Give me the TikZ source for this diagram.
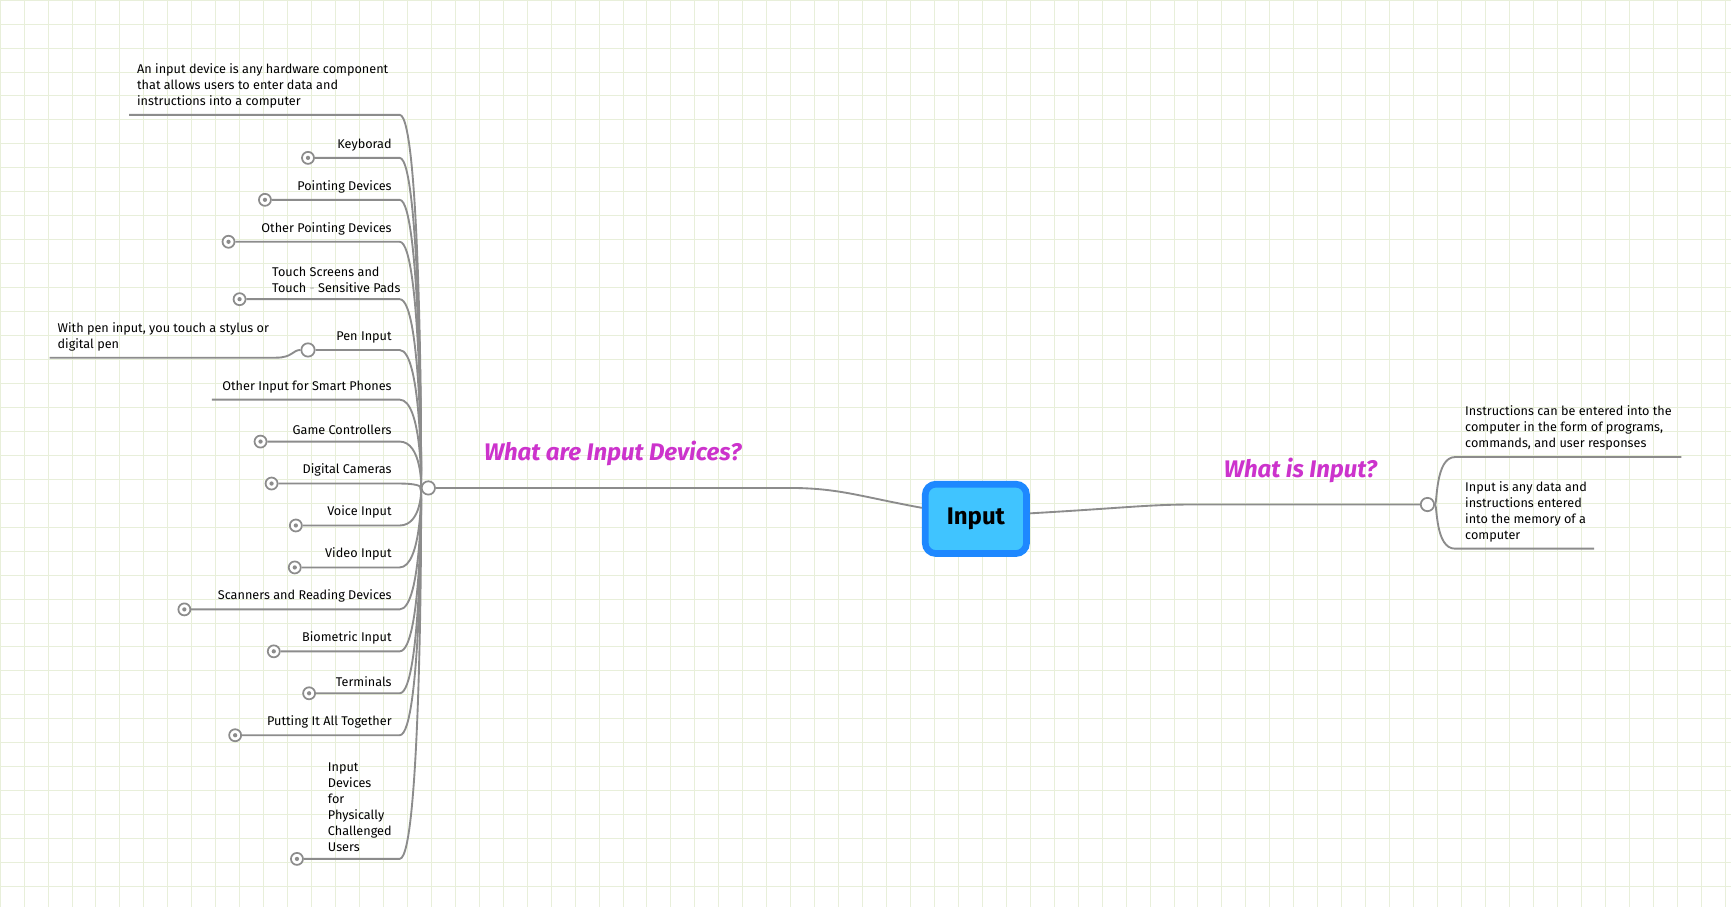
\documentclass[tikz,border=0pt]{standalone}
\usepackage{fontspec}
\setmainfont{Fira Sans}
\definecolor{topicc}{RGB}{204,51,204}
\definecolor{gridc}{RGB}{232,239,218}
\begin{document}
\begin{tikzpicture}[x=0.828pt,y=-0.828pt,
  conn/.style={draw=black!45,line width=1.4pt},
  lbl/.style={inner sep=0pt,font=\fontsize{9.5}{12}\fontseries{l}\selectfont},
  mk/.style={circle,draw=black!45,line width=1.3pt,minimum size=9pt,inner sep=0pt,fill=white,path picture={\fill[black!45](path picture bounding box.center) circle (1.6pt);}},
  hubc/.style={circle,draw=black!45,line width=1.3pt,minimum size=10pt,inner sep=0pt,fill=white},
  topic/.style={inner sep=0pt,font=\fontsize{18}{22}\bfseries\itshape\selectfont,text=topicc}]
\useasboundingbox (0,0) rectangle (1568,822);
\fill[white] (0,0) rectangle (1568,822);
\foreach \gx in {0,21.7,...,1568} \draw[gridc,line width=0.5pt] (\gx,0) -- (\gx,822);
\foreach \gy in {0,21.7,...,822} \draw[gridc,line width=0.5pt] (0,\gy) -- (1568,\gy);
% center
\node[draw={rgb,255:red,30;green,136;blue,255},line width=5pt,fill={rgb,255:red,64;green,196;blue,255},rounded corners=8pt,minimum width=76pt,minimum height=52pt,font=\fontsize{18}{20}\bfseries\selectfont] (root) at (884,470) {Input};
% right
\node[hubc] (rh) at (1293,457) {};
\coordinate (rj) at (1080,457);
\draw[conn] (root.east|-0,465) .. controls (1020,460) and (1040,457) .. (rj) -- (rh);
\node[topic] (rt) at (1178,426) {What is Input?};
\coordinate (r1) at (1523,414);
\coordinate (r2) at (1444,497);
\draw[conn] (rh) .. controls (1302,457) and (1300,414) .. (1318,414) -- (r1);
\draw[conn] (rh) .. controls (1302,457) and (1300,497) .. (1318,497) -- (r2);
\node[lbl,anchor=south west,align=left] (rl1) at (1327,408) {Instructions can be entered into the\\computer in the form of programs,\\commands, and user responses};
\node[lbl,anchor=south west,align=left] (rl2) at (1327,491) {Input is any data and\\instructions entered\\into the memory of a\\computer};
% left
\node[hubc] (lh) at (388,442) {};
\coordinate (lj) at (715,442);
\draw[conn] (root.west|-0,460) .. controls (780,450) and (760,442) .. (lj) -- (lh);
\node[topic] (lt) at (555,411) {What are Input Devices?};
\foreach \i/\y/\mx/\t/\al/\xx in {
 1/143/279/Keyborad/right/355,
 2/181/240/Pointing Devices/right/355,
 3/219/207/Other Pointing Devices/right/355,
 4/271/217/{Touch Screens and\\Touch {\color{black!35}-} Sensitive Pads}/left/363,
 5/400/236/Game Controllers/right/355,
 6/438/246/Digital Cameras/right/355,
 7/476/268/Voice Input/right/355,
 8/514/267/Video Input/right/355,
 9/552/167/Scanners and Reading Devices/right/355,
 10/590/248/Biometric Input/right/355,
 11/628/280/Terminals/right/355,
 12/666/213/Putting It All Together/right/355,
 13/778/269/{Input\\Devices\\for\\Physically\\Challenged\\Users}/left/355}{
  \node[mk] (m\i) at (\mx,\y) {};
  \draw[conn] (lh) .. controls (382,442) and (382,\y) .. (362,\y) -- (m\i);
  \node[lbl,anchor=south east,align=\al] (t\i) at (\xx,\y-6) {\t};
}
\coordinate (d1) at (117,104);
\draw[conn] (lh) .. controls (382,442) and (382,104) .. (362,104) -- (d1);
\node[lbl,anchor=south west,align=left] (dt) at (124,98) {An input device is any hardware component\\that allows users to enter data and\\instructions into a computer};
\coordinate (s1) at (192,362);
\draw[conn] (lh) .. controls (382,442) and (382,362) .. (362,362) -- (s1);
\node[lbl,anchor=south east] (st) at (355,356) {Other Input for Smart Phones};
\node[hubc] (pen) at (279,317) {};
\draw[conn] (lh) .. controls (382,442) and (382,317) .. (362,317) -- (pen);
\node[lbl,anchor=south east] (pt) at (355,311) {Pen Input};
\coordinate (p1) at (45,324);
\draw[conn] (pen) .. controls (265,317) and (265,324) .. (250,324) -- (p1);
\node[lbl,anchor=south west,align=left] (pd) at (52,318) {With pen input, you touch a stylus or\\digital pen};
\end{tikzpicture}
\end{document}
